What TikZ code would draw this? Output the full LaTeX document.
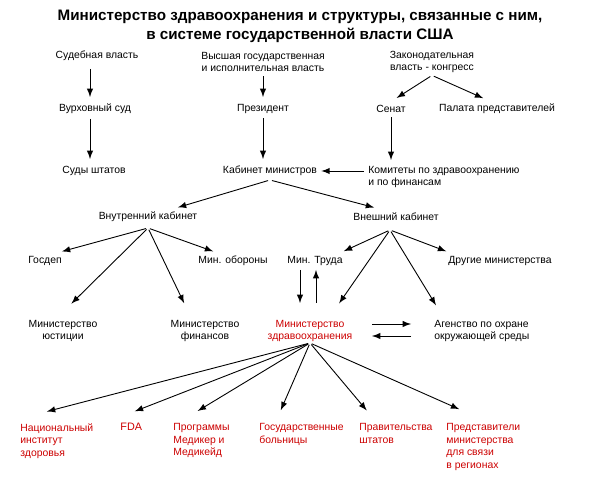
\documentclass[tikz,border=0pt]{standalone}
\usepackage{fontspec}
\setmainfont{Liberation Sans}
\begin{document}
\begin{tikzpicture}[x=0.5pt,y=-0.5pt,
 t/.style={font=\fontsize{5.2}{6.3}\selectfont,align=center,inner sep=1pt},
 tl/.style={t,align=left},
 r/.style={text=red!80!black},
 a/.style={-latex,line width=0.45pt,shorten >=1pt,shorten <=1pt},
 l/.style={line width=0.45pt}]
\useasboundingbox (0,0) rectangle (600,491);
\node[font=\fontsize{7.6}{9.5}\selectfont\bfseries,align=center] (title) at (300,26) {Министерство здравоохранения и структуры, связанные с ним,\\в системе государственной власти США};
\node[t] (sv) at (97,56) {Судебная власть};
\node[t] (vg) at (263,62) {Высшая государственная\\и исполнительная власть};
\node[t] (zv) at (432,62) {Законодательная\\власть - конгресс};
\node[t] (vs) at (95,109) {Вурховный суд};
\node[t] (pr) at (263,109) {Президент};
\node[t] (sen) at (391,109) {Сенат};
\node[t] (pp) at (497,109) {Палата представителей};
\node[t] (ss) at (94,171) {Суды штатов};
\node[t] (km) at (270,171) {Кабинет министров};
\node[tl,anchor=west] (kom) at (366,177) {Комитеты по здравоохранению\\и по финансам};
\node[t] (vnk) at (148,217) {Внутренний кабинет};
\node[t] (vshk) at (396,217) {Внешний кабинет};
\node[t] (gd) at (45,261) {Госдеп};
\node[t] (mo) at (233,261) {Мин. обороны};
\node[t] (mt) at (315,261) {Мин. Труда};
\node[t] (dm) at (500,261) {Другие министерства};
\node[t] (mju) at (63,331) {Министерство\\юстиции};
\node[t] (mf) at (205,331) {Министерство\\финансов};
\node[t,r] (mz) at (310,331) {Министерство\\здравоохранения};
\node[tl,anchor=west] (ag) at (432,331) {Агенство по охране\\окружающей среды};
\node[tl,r,anchor=north west] (b1) at (18,421) {Национальный\\институт\\здоровья};
\node[tl,r,anchor=north west,font=\fontsize{5.4}{6.4}\selectfont\rmfamily] (b2) at (118,421) {FDA};
\node[tl,r,anchor=north west] (b3) at (171,421) {Программы\\Медикер и\\Медикейд};
\node[tl,r,anchor=north west] (b4) at (257,421) {Государственные\\больницы};
\node[tl,r,anchor=north west] (b5) at (357,421) {Правительства\\штатов};
\node[tl,r,anchor=north west] (b6) at (444,421) {Представители\\министерства\\для связи\\в регионах};
\coordinate (vnt) at (148,228); \coordinate (vst) at (390,230); \coordinate (kmb) at (270,180);
\coordinate (mzb) at (310,343);
\draw[a] (90,67) -- (90,99);
\draw[a] (vg.south) -- (263,99);
\draw[a] (zv.south) -- (395,99);
\draw[a] (zv.south) -- (485,99);
\draw[a] (90,117) -- (90,161);
\draw[a] (pr.south) -- (263,161);
\draw[a] (sen.south) -- (sen.south |- 0,162);
\draw[a] (kom.west |- km) -- (km.east);
\draw[a] (kmb) -- (176,208);
\draw[a] (kmb) -- (376,208);
\draw[a] (vnt) -- (60,252);
\draw[a] (vnt) -- (70,305);
\draw[a] (vnt) -- (185,305);
\draw[a] (vnt) -- (215,252);
\draw[a] (vst) -- (342,252);
\draw[a] (vst) -- (338,305);
\draw[a] (vst) -- (437,307);
\draw[a] (vst) -- (448,252);
\draw[a] (300,268) -- (300,305);
\draw[a] (316,305) -- (316,268);
\draw[a] (370,324) -- (413,324);
\draw[a] (413,336) -- (370,336);
\draw[a] (mzb) -- (45,412);
\draw[a] (mzb) -- (133,412);
\draw[a] (mzb) -- (196,412);
\draw[a] (mzb) -- (280,412);
\draw[a] (mzb) -- (368,412);
\draw[a] (mzb) -- (461,410);
\end{tikzpicture}
\end{document}
